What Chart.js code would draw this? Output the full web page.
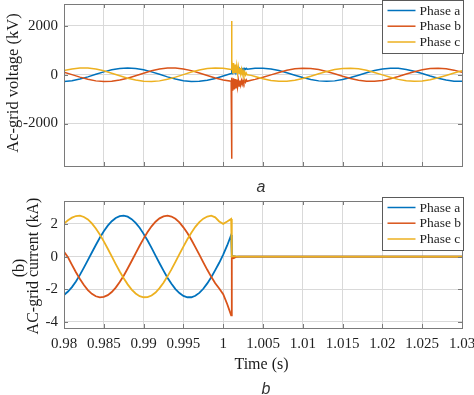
<!DOCTYPE html>
<html><head><meta charset="utf-8">
<script src="https://cdn.jsdelivr.net/npm/chart.js@4.4.1/dist/chart.umd.min.js"></script>
<style>
html,body{margin:0;padding:0;background:#fff;}
#wrap{position:relative;width:474px;height:395px;overflow:hidden;background:#fff;}
canvas{position:absolute;left:0;}
.lbl{position:absolute;white-space:nowrap;font-family:"Liberation Serif","Times New Roman",serif;color:#1a1a1a;transform:translate(-50%,-50%);line-height:1;}
.rot{transform:translate(-50%,-50%) rotate(-90deg);}
.it{font-family:"Liberation Sans",Arial,sans-serif;font-style:italic;color:#333;}
</style></head><body>
<div id="wrap">
<canvas id="c1" width="474" height="190" style="top:0"></canvas>
<canvas id="c2" width="474" height="205" style="top:190px"></canvas>
<div class="lbl rot" style="left:12.5px;top:83px;font-size:16.5px">Ac-grid voltage (kV)</div>
<div class="lbl rot" style="left:19px;top:268px;font-size:16px">(b)</div>
<div class="lbl rot" style="left:32.5px;top:266px;font-size:16px">AC-grid current (kA)</div>
<div class="lbl" style="left:261.5px;top:364px;font-size:16px">Time (s)</div>
<div class="lbl it" style="left:261px;top:187px;font-size:16px">a</div>
<div class="lbl it" style="left:266px;top:389px;font-size:16px">b</div>
</div>
<script>
// ---- data ----
const SERIES_NAMES = ['Phase a', 'Phase b', 'Phase c'];
const X_TICKS = [0.98, 0.985, 0.99, 0.995, 1.0, 1.005, 1.01, 1.015, 1.02, 1.025, 1.03];
const V_TICKS = [-2000, 0, 2000];
const I_TICKS = [-4, -2, 0, 2];

// voltage (kV)
const T_V = [0.980,0.981,0.982,0.983,0.984,0.985,0.986,0.987,0.988,0.989,0.990,0.991,0.992,0.993,0.994,0.995,0.996,0.997,0.998,0.999,1.000,1.001,1.00105,
  1.0011,1.0012,1.0013,1.0014,1.0015,1.0016,1.0017,1.0018,1.0019,1.0020,1.0021,1.0022,1.0023,1.0024,1.0025,1.0026,1.0027,1.0028,1.0029,1.0030,1.0035,1.004,
  1.005,1.006,1.007,1.008,1.009,1.010,1.011,1.012,1.013,1.014,1.015,1.016,1.017,1.018,1.019,1.020,1.021,1.022,1.023,1.024,1.025,1.026,1.027,1.028,1.029,1.030];
const V_A = [-278,-245,-178,-87,18,119,204,260,280,260,204,119,18,-87,-178,-245,-278,-271,-227,-150,-52,52,300,
  120,60,170,100,200,130,220,150,230,170,240,190,250,200,255,215,260,225,262,230,250,262,
  268,237,172,83,-17,-115,-197,-251,-270,-251,-197,-115,-17,83,172,237,268,262,218,145,51,-51,-145,-218,-262,-268];
const V_B = [109,6,-98,-187,-251,-279,-268,-219,-140,-41,64,160,233,274,276,240,169,75,-29,-130,-212,-264,-3440,
  -120,-650,-150,-600,-180,-560,-200,-500,-220,-460,-240,-420,-240,-380,-230,-340,-220,-300,-210,-270,-225,-189,
  -105,-6,94,181,242,269,258,211,135,39,-62,-154,-225,-264,-266,-231,-163,-73,28,125,204,255,270,247,189,105];
const V_C = [169,240,276,274,233,160,64,-41,-140,-219,-268,-279,-251,-187,-98,6,109,196,256,280,264,212,2200,
  600,50,480,60,420,70,370,60,320,60,270,40,220,20,160,0,110,-10,70,0,-25,-73,
  -163,-231,-266,-264,-225,-154,-62,39,135,211,258,269,242,181,94,-6,-105,-189,-247,-270,-255,-204,-125,-28,73,163];

// current (kA)
const T_I = [0.98,0.9805,0.981,0.9815,0.982,0.9825,0.983,0.9835,0.984,0.9845,0.985,0.9855,0.986,0.9865,0.987,0.9875,0.988,0.9885,0.989,0.9895,
  0.99,0.9905,0.991,0.9915,0.992,0.9925,0.993,0.9935,0.994,0.9945,0.995,0.9955,0.996,0.9965,0.997,0.9975,0.998,0.9985,0.999,0.9995,1.0,1.0005,1.001,
  1.00108,1.0013,1.0016,1.002,1.03];
const I_A = [-2.35,-2.14,-1.87,-1.52,-1.12,-0.68,-0.22,0.25,0.71,1.15,1.55,1.89,2.16,2.36,2.47,2.50,2.44,2.29,2.06,1.76,
  1.39,0.98,0.53,0.06,-0.41,-0.86,-1.29,-1.66,-1.99,-2.23,-2.41,-2.49,-2.49,-2.40,-2.22,-1.97,-1.64,-1.26,-0.83,-0.38,0.12,0.68,1.32,
  0.02,0.03,0.0,0.0,0.0];
const I_B = [0.30,-0.04,-0.51,-0.96,-1.37,-1.74,-2.05,-2.28,-2.43,-2.50,-2.47,-2.36,-2.17,-1.90,-1.56,-1.17,-0.73,-0.27,0.20,0.66,
  1.10,1.50,1.85,2.13,2.34,2.46,2.50,2.45,2.31,2.09,1.79,1.44,1.03,0.58,0.12,-0.35,-0.81,-1.24,-1.63,-1.95,-2.30,-2.90,-3.60,
  -0.05,-0.10,-0.02,0.0,0.0];
const I_C = [2.02,2.22,2.38,2.48,2.50,2.42,2.27,2.03,1.72,1.35,0.93,0.48,0.01,-0.46,-0.91,-1.33,-1.70,-2.02,-2.26,-2.42,
  -2.49,-2.48,-2.38,-2.20,-1.93,-1.60,-1.21,-0.78,-0.32,0.15,0.61,1.06,1.46,1.82,2.11,2.32,2.45,2.50,2.40,2.15,2.00,2.14,2.30,
  0.0,0.03,0.01,0.0,0.0];

// ---- styling ----
const COLORS = ['#0072BD', '#D95319', '#EDB120'];
const GRID = '#d9d9d9';
const AXIS = '#7a7a7a';
const TXT = '#1f1f1f';
const SERIF = '"Liberation Serif","Times New Roman",serif';

const pts = (T, V) => T.map((t, i) => ({x: t, y: V[i]}));

const boxPlugin = {
  id: 'mbox',
  afterDatasetsDraw(chart, args, o) {
    const ctx = chart.ctx, a = chart.chartArea;
    const xs = chart.scales.x, ys = chart.scales.y;
    ctx.save();
    ctx.strokeStyle = AXIS; ctx.lineWidth = 1;
    ctx.beginPath();
    xs.ticks.forEach(t => {
      const px = Math.round(xs.getPixelForValue(t.value)) + 0.5;
      ctx.moveTo(px, a.bottom); ctx.lineTo(px, a.bottom - 4);
      ctx.moveTo(px, a.top); ctx.lineTo(px, a.top + 4);
    });
    ys.ticks.forEach(t => {
      const py = Math.round(ys.getPixelForValue(t.value)) + 0.5;
      ctx.moveTo(a.left, py); ctx.lineTo(a.left + 4, py);
      ctx.moveTo(a.right, py); ctx.lineTo(a.right - 4, py);
    });
    ctx.stroke();
    ctx.strokeRect(Math.round(a.left) + 0.5, Math.round(a.top) + 0.5, Math.round(a.right - a.left), Math.round(a.bottom - a.top));
    // legend
    const bx = Math.round(a.right + 1 - o.w) + 0.5, by = Math.round(a.top + o.dy) + 0.5;
    ctx.fillStyle = '#fff';
    ctx.fillRect(bx, by, o.w, o.h);
    ctx.strokeStyle = '#5a5a5a';
    ctx.strokeRect(bx, by, o.w, o.h);
    chart.data.datasets.forEach((ds, i) => {
      const y = by + o.rows[i];
      ctx.strokeStyle = ds.borderColor; ctx.lineWidth = 1.5;
      ctx.beginPath(); ctx.moveTo(bx + 5, y); ctx.lineTo(bx + 33, y); ctx.stroke();
      ctx.fillStyle = TXT; ctx.font = '13.5px ' + SERIF; ctx.textBaseline = 'middle'; ctx.textAlign = 'left';
      ctx.fillText(ds.label, bx + 37, y + 0.5);
    });
    ctx.restore();
  }
};

function makeDatasets(T, arrs, lw) {
  return arrs.map((V, i) => ({
    label: SERIES_NAMES[i], data: pts(T, V), borderColor: COLORS[i], backgroundColor: COLORS[i],
    borderWidth: lw, pointRadius: 0, tension: 0, fill: false, order: 3 - i
  }));
}

function zeroPad(s) { s.paddingTop = 0; s.paddingBottom = 0; s.paddingLeft = 0; s.paddingRight = 0; }

function makeChart(id, T, arrs, lw, ymin, ymax, yticks, padTop, xHeight, showX) {
  return new Chart(document.getElementById(id), {
    type: 'line',
    data: {datasets: makeDatasets(T, arrs, lw)},
    options: {
      responsive: false, animation: false, events: [],
      layout: {padding: {left: 0, right: 12, top: padTop, bottom: 0}},
      plugins: {legend: {display: false}, tooltip: {enabled: false},
        mbox: {w: 81, h: 53, dy: -4, rows: [10, 25.7, 41.5]}},
      scales: {
        x: {type: 'linear', min: 0.98, max: 1.03,
          afterBuildTicks: s => { s.ticks = X_TICKS.map(v => ({value: v})); },
          afterFit: s => { s.height = xHeight; zeroPad(s); },
          ticks: {display: showX, autoSkip: false, maxRotation: 0, padding: 7, color: TXT,
            font: {family: SERIF, size: 15}, callback: v => String(Math.round(v * 1000) / 1000)},
          grid: {color: GRID, lineWidth: 1, drawTicks: false}, border: {display: false}},
        y: {type: 'linear', min: ymin, max: ymax,
          afterBuildTicks: s => { s.ticks = yticks.map(v => ({value: v})); },
          afterFit: s => { s.width = 64; zeroPad(s); },
          ticks: {padding: 6, color: TXT, font: {family: SERIF, size: 15}, callback: v => String(v)},
          grid: {color: GRID, lineWidth: 1, drawTicks: false}, border: {display: false}}
      }
    },
    plugins: [boxPlugin]
  });
}

makeChart('c1', T_V, [V_A, V_B, V_C], 1.5, -3740, 2900, V_TICKS, 4, 24, false);
makeChart('c2', T_I, [I_A, I_B, I_C], 1.8, -4.37, 3.4, I_TICKS, 11, 67, true);
</script>
</body></html>
